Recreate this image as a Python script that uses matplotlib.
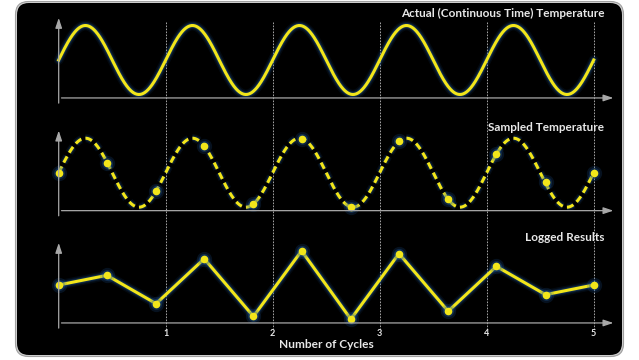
#!/usr/bin/env python
# sampling / aliasing illustration: continuous, sampled and logged temperature

import numpy as np
import matplotlib.pyplot as plt
from matplotlib.patches import FancyBboxPatch

# data
n_cycles = 5                      # continuous signal: one sine period per cycle
sample_t = [0.0, 0.45, 0.91, 1.36, 1.82, 2.27, 2.73, 3.18, 3.64, 4.09, 4.55, 5.0]
sample_v = [0.0, 0.28, -0.54, 0.76, -0.91, 0.99, -0.99, 0.91, -0.76, 0.54, -0.28, 0.0]
cycle_ticks = [1, 2, 3, 4, 5]
titles = ['Actual (Continuous Time) Temperature', 'Sampled Temperature', 'Logged Results']
xlabel = 'Number of Cycles'

t = np.linspace(0, n_cycles, 1000)
temp = np.sin(2 * np.pi * t)

W, H = 639, 360
yellow = '#f2e61a'
glow = '#1f5a9e'
axis_c = '#a8a8a8'
text_c = '#e8e8e8'
font = 'Lato'

fig = plt.figure(figsize=(W / 100, H / 100), dpi=100)
fig.patch.set_facecolor('white')

# background box in pixel coords
bg = fig.add_axes([0, 0, 1, 1])
bg.set_xlim(0, W)
bg.set_ylim(H, 0)
bg.axis('off')
bg.add_patch(FancyBboxPatch((18, 5), 606, 352, boxstyle='round,pad=0,rounding_size=13',
                            fc='#bdbdbd', ec='none', alpha=0.6))
bg.add_patch(FancyBboxPatch((15.5, 1.5), 608, 355, boxstyle='round,pad=0,rounding_size=13',
                            fc='#d0d0d0', ec='#a0a0a0', lw=0.8))
bg.add_patch(FancyBboxPatch((17, 3), 605, 352, boxstyle='round,pad=0,rounding_size=12',
                            fc='black', ec='none'))

# x mapping shared by all layers: cycle 0 at px 58.7, 107 px per cycle
x0_px, px_per = 58.7, 107.0
xlim = (-x0_px / px_per, (W - x0_px) / px_per)

grid = fig.add_axes([0, 0, 1, 1])
grid.set_xlim(*xlim)
grid.set_ylim(H, 0)
grid.axis('off')
grid.vlines(cycle_ticks, 22, 329, colors='white', linestyles=(0, (2, 1.6)), lw=0.6, alpha=0.75)

amp = 34.5
centers = [60, 172.7, 285]


def panel(center):
    half = 50
    ax = fig.add_axes([0, 1 - (center + half) / H, 1, 2 * half / H])
    ax.set_xlim(*xlim)
    ax.set_ylim(-half / amp, half / amp)
    ax.axis('off')
    ax.patch.set_alpha(0)
    # axes with arrows
    ax.annotate('', xy=(0, 1.3), xytext=(0, -1.33),
                arrowprops=dict(arrowstyle='-|>,head_length=0.6,head_width=0.2', color=axis_c, lw=0.9))
    ax.annotate('', xy=(5.21, -1.1), xytext=(0, -1.1),
                arrowprops=dict(arrowstyle='-|>,head_length=0.6,head_width=0.2', color=axis_c, lw=0.9))
    return ax


def glow_plot(ax, x, y):
    for lw, a in [(7, 0.1), (5, 0.18), (3.6, 0.3)]:
        ax.plot(x, y, color=glow, lw=lw, alpha=a, solid_capstyle='round',
                solid_joinstyle='round')
    ax.plot(x, y, color=yellow, lw=2.2, solid_joinstyle='round')


def glow_dots(ax, x, y):
    ax.plot(x, y, 'o', color=glow, ms=11, alpha=0.2, mew=0)
    ax.plot(x, y, 'o', color=glow, ms=8, alpha=0.3, mew=0)
    ax.plot(x, y, 'o', color=yellow, ms=5.5, mew=0)


ax1 = panel(centers[0])
glow_plot(ax1, t, temp)

ax2 = panel(centers[1])
for lw, a in [(6, 0.12), (4, 0.25)]:
    ax2.plot(t, temp, color=glow, lw=lw, alpha=a, ls=(0, (2.3 * 2.2 / lw, 1.4 * 2.2 / lw)))
ax2.plot(t, temp, color=yellow, lw=2.2, ls=(0, (2.3, 1.4)))
glow_dots(ax2, sample_t, sample_v)

ax3 = panel(centers[2])
glow_plot(ax3, sample_t, sample_v)
glow_dots(ax3, sample_t, sample_v)
for c in cycle_ticks:
    ax3.text(c, -1.42, str(c), color=text_c, fontsize=6.5, ha='center', va='center',
             family=font, fontweight='bold')
ax3.text(2.5, -1.72, xlabel, color=text_c, fontsize=8.6, ha='center', va='center',
         family=font, fontweight='bold')

title_y = [1.34, 1.32, 1.37]
for ax, s, ty in zip([ax1, ax2, ax3], titles, title_y):
    ax.text(5.1, ty, s, color=text_c, fontsize=8.5, ha='right', va='center',
            family=font, fontweight='bold')

plt.savefig('out.png', dpi=100, facecolor='white')
